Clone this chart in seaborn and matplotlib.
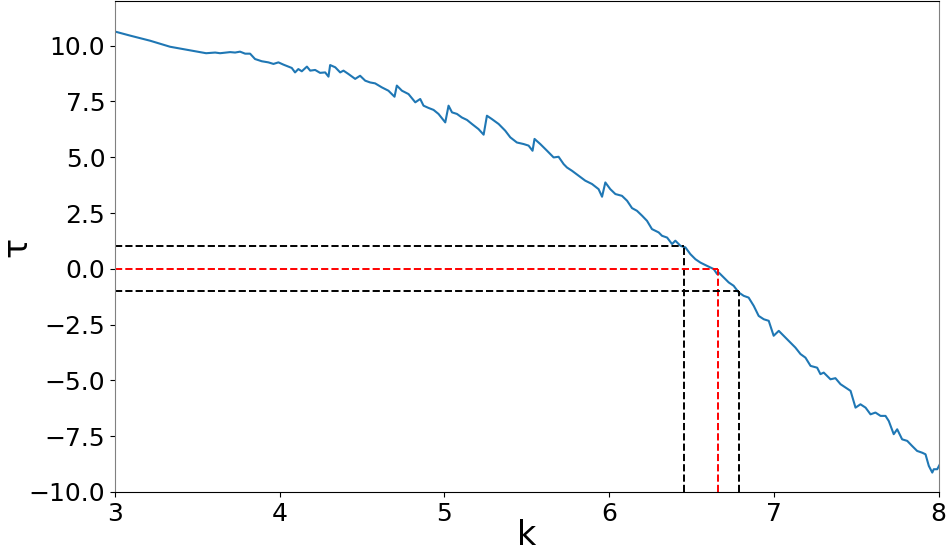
import matplotlib
matplotlib.use("Agg")
import matplotlib.pyplot as plt
import seaborn as sns
import pandas as pd

# curve
k_vals = [3.000, 3.091, 3.213, 3.334, 3.395, 3.486, 3.553, 3.608, 3.638, 3.699,
          3.729, 3.759, 3.790, 3.820, 3.850, 3.891, 3.931, 3.962, 3.992, 4.022,
          4.053, 4.073, 4.093, 4.113, 4.134, 4.165, 4.185, 4.215, 4.245, 4.276,
          4.296, 4.306, 4.337, 4.367, 4.387, 4.417, 4.458, 4.488, 4.519, 4.549,
          4.579, 4.620, 4.660, 4.697, 4.711, 4.742, 4.782, 4.823, 4.853, 4.873,
          4.903, 4.934, 4.964, 5.005, 5.025, 5.046, 5.076, 5.106, 5.137, 5.167,
          5.207, 5.238, 5.258, 5.288, 5.329, 5.369, 5.400, 5.440, 5.481, 5.511,
          5.535, 5.547, 5.582, 5.623, 5.663, 5.693, 5.724, 5.744, 5.775, 5.815,
          5.855, 5.896, 5.936, 5.957, 5.977, 6.007, 6.038, 6.078, 6.109, 6.139,
          6.169, 6.200, 6.230, 6.260, 6.301, 6.321, 6.352, 6.382, 6.402, 6.433,
          6.463, 6.493, 6.524, 6.554, 6.595, 6.635, 6.656, 6.666, 6.696, 6.726,
          6.756, 6.787, 6.817, 6.847, 6.878, 6.908, 6.939, 6.969, 6.999, 7.030,
          7.070, 7.100, 7.131, 7.162, 7.192, 7.223, 7.263, 7.283, 7.303, 7.344,
          7.374, 7.405, 7.435, 7.466, 7.496, 7.526, 7.557, 7.587, 7.617, 7.648,
          7.678, 7.698, 7.728, 7.749, 7.779, 7.810, 7.840, 7.870, 7.901, 7.921,
          7.941, 7.962, 7.971, 7.992, 8.008]
tau_vals = [10.63, 10.45, 10.22, 9.95, 9.87, 9.75, 9.66, 9.69, 9.66, 9.71,
            9.69, 9.73, 9.64, 9.64, 9.40, 9.30, 9.25, 9.18, 9.25, 9.15,
            9.06, 9.00, 8.80, 8.95, 8.85, 9.06, 8.88, 8.91, 8.78, 8.80,
            8.61, 9.13, 9.03, 8.80, 8.88, 8.73, 8.51, 8.65, 8.43, 8.35,
            8.31, 8.13, 7.98, 7.71, 8.21, 7.98, 7.83, 7.46, 7.61, 7.31,
            7.21, 7.12, 6.94, 6.56, 7.31, 7.01, 6.94, 6.78, 6.67, 6.49,
            6.26, 6.01, 6.86, 6.71, 6.49, 6.19, 5.89, 5.66, 5.59, 5.52,
            5.29, 5.82, 5.59, 5.29, 4.99, 5.02, 4.69, 4.54, 4.39, 4.17,
            3.95, 3.80, 3.57, 3.23, 3.87, 3.57, 3.35, 3.27, 3.05, 2.72,
            2.60, 2.38, 2.15, 1.78, 1.63, 1.48, 1.40, 1.11, 1.26, 1.03,
            0.96, 0.66, 0.43, 0.28, 0.13, -0.01, -0.24, -0.17, -0.39, -0.61,
            -0.76, -1.06, -1.21, -1.29, -1.66, -2.11, -2.26, -2.33, -3.00, -2.78,
            -3.08, -3.30, -3.53, -3.82, -3.98, -4.35, -4.43, -4.72, -4.65, -4.95,
            -4.90, -5.17, -5.32, -5.47, -6.22, -6.07, -6.22, -6.52, -6.44, -6.59,
            -6.59, -6.82, -7.41, -7.19, -7.64, -7.71, -7.94, -8.16, -8.24, -8.31,
            -8.83, -9.13, -8.98, -8.98, -8.76]

# threshold levels and where the curve crosses them
levels = [1.0, 0.0, -1.0]
crossings = [6.457, 6.659, 6.787]
level_colors = ["black", "red", "black"]

df = pd.DataFrame({"k": k_vals, "tau": tau_vals})

fig = plt.figure(figsize=(9.46, 5.52), dpi=100)
ax = fig.add_axes([0.1216, 0.1087, 0.8705, 0.8895])

sns.lineplot(data=df, x="k", y="tau", ax=ax, color="#1f77b4", linewidth=1.5,
             estimator=None, errorbar=None)

x0, y0 = 3, -10
for lev, kc, col in zip(levels, crossings, level_colors):
    ax.hlines(lev, x0, kc, colors=col, linestyles="--", linewidth=1.4)
    ax.vlines(kc, y0, lev, colors=col, linestyles="--", linewidth=1.4)

ax.set_xlim(3, 8)
ax.set_ylim(-10, 12)
ax.set_yticks([-10, -7.5, -5, -2.5, 0, 2.5, 5, 7.5, 10])
ax.set_yticklabels(["−10.0", "−7.5", "−5.0", "−2.5", "0.0", "2.5", "5.0", "7.5", "10.0"])
ax.tick_params(labelsize=18)
ax.set_xlabel("k", fontsize=24)
ax.set_ylabel("τ", fontsize=24)
ax.xaxis.set_label_coords(0.5, -0.055)
ax.yaxis.set_label_coords(-0.099, 0.5)
ax.spines["left"].set_color("gray")
ax.spines["right"].set_color("gray")

fig.savefig("out.png", dpi=100)
